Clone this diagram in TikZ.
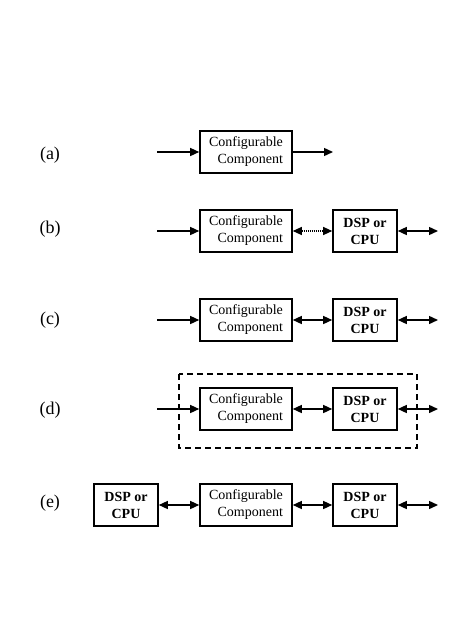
\documentclass[tikz,border=0pt]{standalone}
\usepackage{fontspec}
\setmainfont{Liberation Serif}
\usetikzlibrary{arrows.meta,positioning}
\tikzset{
  unit/.style={rectangle, draw=black, line width=1.6pt, fill=white,
    minimum height=42pt, inner sep=2pt, font=\fontsize{14}{17}\selectfont},
  cfgbox/.style={unit, minimum width=92pt, align=right},
  dspbox/.style={unit, minimum width=64pt, align=center, font=\fontsize{14}{17}\selectfont\bfseries},
  tag/.style={font=\fontsize{18}{20}\selectfont},
  flow/.style={-{Triangle[length=9pt,width=8pt]}, line width=1.4pt},
  bidir/.style={{Triangle[length=9pt,width=8pt]}-{Triangle[length=9pt,width=8pt]}, line width=1.4pt},
  dotbidir/.style={bidir, dash pattern=on 1pt off 1pt, line width=1.1pt},
  dashbox/.style={draw=black, line width=1.4pt, dash pattern=on 6pt off 4pt},
}
\begin{document}
\begin{tikzpicture}[x=1pt, y=-1pt]
  \useasboundingbox (0,0) rectangle (474,632);

  % (a)
  \node[tag] (taga) at (50,155) {(a)};
  \node[cfgbox] (cfga) at (246,152) {Configurable\\ Component};
  \coordinate (ina) at (157,152);
  \coordinate (outa) at (333,152);
  \draw[flow] (ina) -- (cfga);
  \draw[flow] (cfga) -- (outa);

  % (b)
  \node[tag] (tagb) at (50,229) {(b)};
  \node[cfgbox] (cfgb) at (246,231) {Configurable\\ Component};
  \node[dspbox] (dspb) at (365,231) {DSP or\\ CPU};
  \coordinate (inb) at (157,231);
  \coordinate (outb) at (438,231);
  \draw[flow] (inb) -- (cfgb);
  \draw[dotbidir] (cfgb) -- (dspb);
  \draw[bidir] (dspb) -- (outb);

  % (c)
  \node[tag] (tagc) at (50,320) {(c)};
  \node[cfgbox] (cfgc) at (246,320) {Configurable\\ Component};
  \node[dspbox] (dspc) at (365,320) {DSP or\\ CPU};
  \coordinate (inc) at (157,320);
  \coordinate (outc) at (438,320);
  \draw[flow] (inc) -- (cfgc);
  \draw[bidir] (cfgc) -- (dspc);
  \draw[bidir] (dspc) -- (outc);

  % (d)
  \node[tag] (tagd) at (50,410) {(d)};
  \draw[dashbox] (179,374) rectangle (417,448);
  \node[cfgbox] (cfgd) at (246,409) {Configurable\\ Component};
  \node[dspbox] (dspd) at (365,409) {DSP or\\ CPU};
  \coordinate (ind) at (157,409);
  \coordinate (outd) at (438,409);
  \draw[flow] (ind) -- (cfgd);
  \draw[bidir] (cfgd) -- (dspd);
  \draw[bidir] (dspd) -- (outd);

  % (e)
  \node[tag] (tage) at (50,503) {(e)};
  \node[dspbox] (dspl) at (126,505) {DSP or\\ CPU};
  \node[cfgbox] (cfge) at (246,505) {Configurable\\ Component};
  \node[dspbox] (dspe) at (365,505) {DSP or\\ CPU};
  \coordinate (oute) at (438,505);
  \draw[bidir] (dspl) -- (cfge);
  \draw[bidir] (cfge) -- (dspe);
  \draw[bidir] (dspe) -- (oute);
\end{tikzpicture}
\end{document}
